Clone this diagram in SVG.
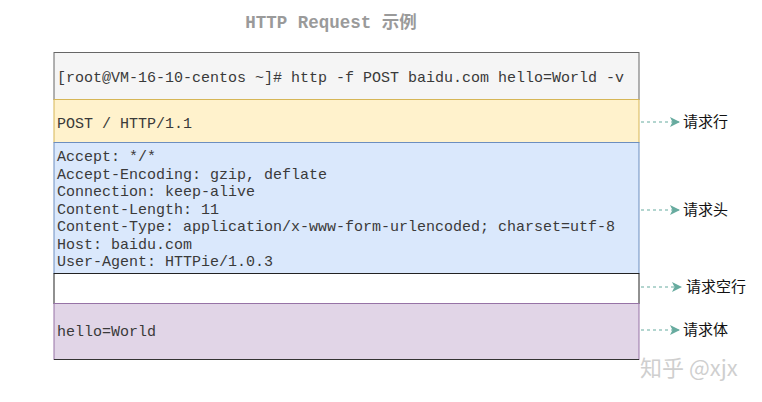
<svg xmlns="http://www.w3.org/2000/svg" width="762" height="402" viewBox="0 0 762 402">
<defs>
<style>
.mono{font-family:"Liberation Mono","Courier New",monospace;font-size:15px;fill:#3a3a3a;}
.title{font-family:"Liberation Mono","Noto Sans CJK SC",monospace;font-size:17.5px;font-weight:bold;fill:#9a9a9a;}
.lbl{font-family:"Noto Sans CJK SC","Noto Sans",sans-serif;font-size:15px;fill:#111111;}
.wm{font-family:"Noto Sans CJK SC","Noto Sans",sans-serif;font-size:22px;fill:#cfcfcf;}
.conn{stroke:#67AB9F;stroke-width:1;stroke-dasharray:3,3;fill:none;}
</style>
<marker id="arr" viewBox="0 0 10 10" refX="9" refY="5" markerWidth="10" markerHeight="10" markerUnits="userSpaceOnUse" orient="auto">
<path d="M0,0 L10,5 L0,10 L2.5,5 Z" fill="#67AB9F"/>
</marker>
</defs>
<rect width="762" height="402" fill="#ffffff"/>
<text id="title" class="title" x="331" y="28" text-anchor="middle">HTTP Request 示例</text>
<g id="cmd">
<rect x="54" y="52.5" width="585" height="47" fill="#f5f5f5" stroke="#666666"/>
<text class="mono" x="57" y="82">[root@VM-16-10-centos ~]# http -f POST baidu.com hello=World -v</text>
</g>
<g id="request-line">
<rect x="54" y="99.5" width="585" height="43" fill="#fff2cc" stroke="#d6b656"/>
<text class="mono" x="57" y="128">POST / HTTP/1.1</text>
</g>
<g id="headers">
<rect x="54" y="142.5" width="585" height="131" fill="#dae8fc" stroke="#6c8ebf"/>
<text class="mono" x="57" y="161">Accept: */*</text>
<text class="mono" x="57" y="178.5">Accept-Encoding: gzip, deflate</text>
<text class="mono" x="57" y="196">Connection: keep-alive</text>
<text class="mono" x="57" y="213.5">Content-Length: 11</text>
<text class="mono" x="57" y="231">Content-Type: application/x-www-form-urlencoded; charset=utf-8</text>
<text class="mono" x="57" y="248.5">Host: baidu.com</text>
<text class="mono" x="57" y="266">User-Agent: HTTPie/1.0.3</text>
</g>
<g id="blank-line">
<rect x="54" y="273.5" width="585" height="30" fill="#ffffff" stroke="#222222"/>
</g>
<g id="body">
<rect x="54" y="303.5" width="585" height="56" fill="#e1d5e7" stroke="#9673a6"/>
<line x1="54" y1="359.5" x2="639" y2="359.5" stroke="#333333"/>
<text class="mono" x="57" y="336">hello=World</text>
</g>
<g id="connectors">
<line class="conn" x1="641" y1="122" x2="679" y2="122" marker-end="url(#arr)"/>
<line class="conn" x1="641" y1="210" x2="679" y2="210" marker-end="url(#arr)"/>
<line class="conn" x1="641" y1="287" x2="681" y2="287" marker-end="url(#arr)"/>
<line class="conn" x1="641" y1="330" x2="679" y2="330" marker-end="url(#arr)"/>
</g>
<g id="labels">
<text class="lbl" x="683" y="127">请求行</text>
<text class="lbl" x="683" y="215">请求头</text>
<text class="lbl" x="686" y="292">请求空行</text>
<text class="lbl" x="683" y="335">请求体</text>
</g>
<text id="watermark" class="wm" x="640" y="376">知乎 @xjx</text>
</svg>
